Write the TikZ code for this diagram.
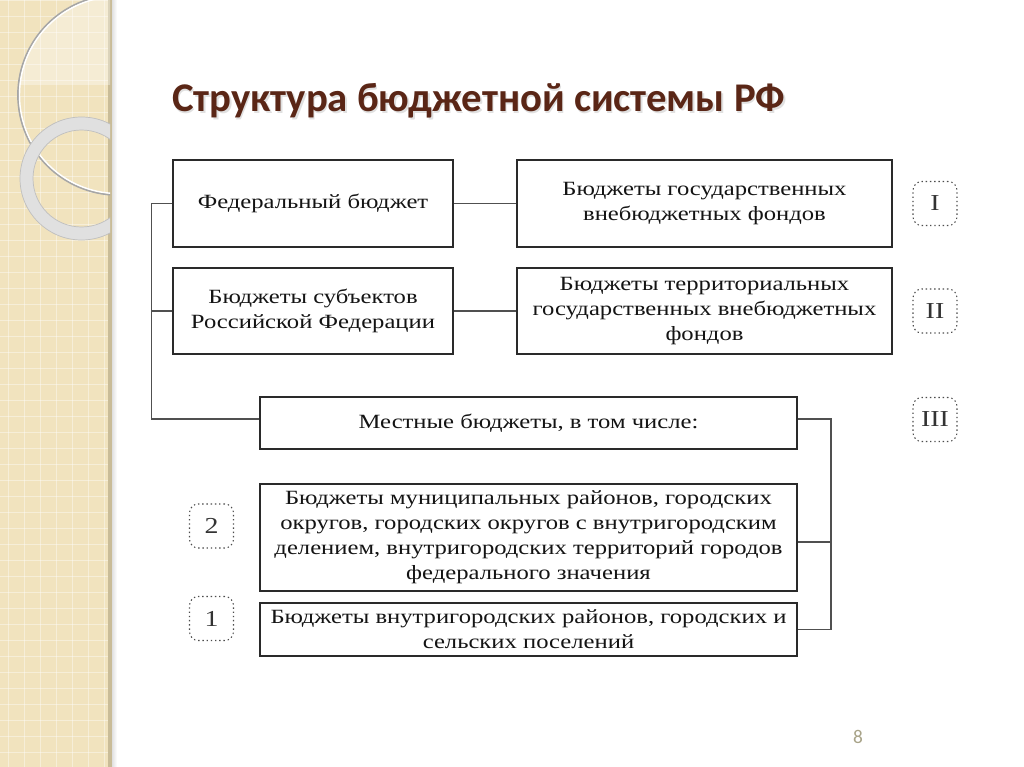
\documentclass[tikz,border=0pt]{standalone}
\usepackage{fontspec}
\setmainfont{Liberation Serif}
\newfontfamily\boxfont[FakeStretch=1.22]{Liberation Serif}
\newfontfamily\titlefont{Carlito}
\definecolor{panel}{HTML}{F1E3BE}
\definecolor{paneledge}{HTML}{C9BC98}
\definecolor{titlebrown}{HTML}{5A2616}
\definecolor{pagenum}{HTML}{A8A388}
\definecolor{boxline}{HTML}{2A2A2A}
\definecolor{linkline}{HTML}{505050}

\begin{document}
\begin{tikzpicture}[x=0.02cm,y=-0.02cm,
  box/.style={draw=boxline,line width=0.8pt,inner sep=0pt,align=center,text=black!92,
    font=\boxfont\fontsize{11.5}{14.2}\selectfont},
  tag/.style={draw=black!70,line width=0.6pt,dash pattern=on 0.8pt off 1.6pt,rounded corners=5pt,
    minimum width=0.88cm,minimum height=0.88cm,inner sep=0pt,text=black!80,
    font=\boxfont\fontsize{13}{15}\selectfont},
  link/.style={draw=linkline,line width=0.75pt},
  heading/.style={anchor=base west,inner sep=0pt,font=\titlefont\bfseries\fontsize{23.2}{27}\selectfont}]
\useasboundingbox (0,0) rectangle (1024,767);
\fill[white] (0,0) rectangle (1024,767);

% left panel
\fill[panel] (0,0) rectangle (110,767);
\foreach \k in {0,16,...,767} \draw[white,opacity=0.4,line width=0.5pt] (0,\k) -- (108,\k);
\foreach \k in {8,24,...,108} \draw[white,opacity=0.4,line width=0.5pt] (\k,0) -- (\k,767);
\fill[paneledge] (108,0) rectangle (112,767);
\shade[left color=black!12,right color=white] (112,0) rectangle (117,767);
\begin{scope}
\clip (0,0) rectangle (110,767);
\begin{scope}
\clip (118,95) circle (100);
\fill[white,opacity=0.35] (0,0) rectangle (220,85);
\end{scope}
\draw[black!35,line width=1pt] (118,95) circle (100);
\draw[white,line width=0.8pt] (118,95) circle (98.5);
\draw[black!12,line width=0.26cm] (81.5,178.5) circle (55);
\draw[black!25,line width=0.4pt] (81.5,178.5) circle (61.5);
\draw[black!25,line width=0.4pt] (81.5,178.5) circle (48.5);
\end{scope}

% title
\node[heading,text=black!40,opacity=0.3] (tshadow) at (173.5,113.5) {Структура бюджетной системы РФ};
\node[heading,text=titlebrown] (title) at (172,112) {Структура бюджетной системы РФ};

% boxes
\node[box,minimum width=5.6cm,minimum height=1.74cm] (fed) at (313,203.5) {Федеральный бюджет};
\node[box,minimum width=7.5cm,minimum height=1.74cm] (gos) at (704.5,203.5) {Бюджеты государственных\\внебюджетных фондов};
\node[box,minimum width=5.6cm,minimum height=1.72cm] (subj) at (313,311) {Бюджеты субъектов\\Российской Федерации};
\node[box,minimum width=7.5cm,minimum height=1.72cm] (terr) at (704.5,311) {Бюджеты территориальных\\государственных внебюджетных\\фондов};
\node[box,minimum width=10.74cm,minimum height=1.04cm] (local) at (528.5,423) {Местные бюджеты, в том числе:};
\node[box,minimum width=10.74cm,minimum height=2.14cm] (mun) at (528.5,537.5) {Бюджеты муниципальных районов, городских\\округов, городских округов с внутригородским\\делением, внутригородских территорий городов\\федерального значения};
\node[box,minimum width=10.74cm,minimum height=1.06cm] (vnut) at (528.5,629.5) {Бюджеты внутригородских районов, городских и\\сельских поселений};

\node[tag] (t1) at (935,203.5) {I};
\node[tag] (t2) at (935,311) {II};
\node[tag] (t3) at (935,419.5) {III};
\node[tag] (k2) at (211.5,526) {2};
\node[tag] (k1) at (211.5,618.5) {1};

% connectors
\coordinate (lbar) at (151.5,0);
\coordinate (rbar) at (831,0);
\draw[link] (fed.west) -- (fed.west -| lbar) |- ([yshift=0.08cm]local.west);
\draw[link] (subj.west) -- (subj.west -| lbar);
\draw[link] (fed.east) -- (gos.west);
\draw[link] (subj.east) -- (terr.west);
\draw[link] ([yshift=0.08cm]local.east) -| (rbar |- vnut.east) -- (vnut.east);
\draw[link] ([yshift=-0.09cm]mun.east) -- ([yshift=-0.09cm]mun.east -| rbar);

\node[font=\titlefont\fontsize{11}{13}\selectfont,text=pagenum] (page) at (858,737) {8};
\end{tikzpicture}
\end{document}
